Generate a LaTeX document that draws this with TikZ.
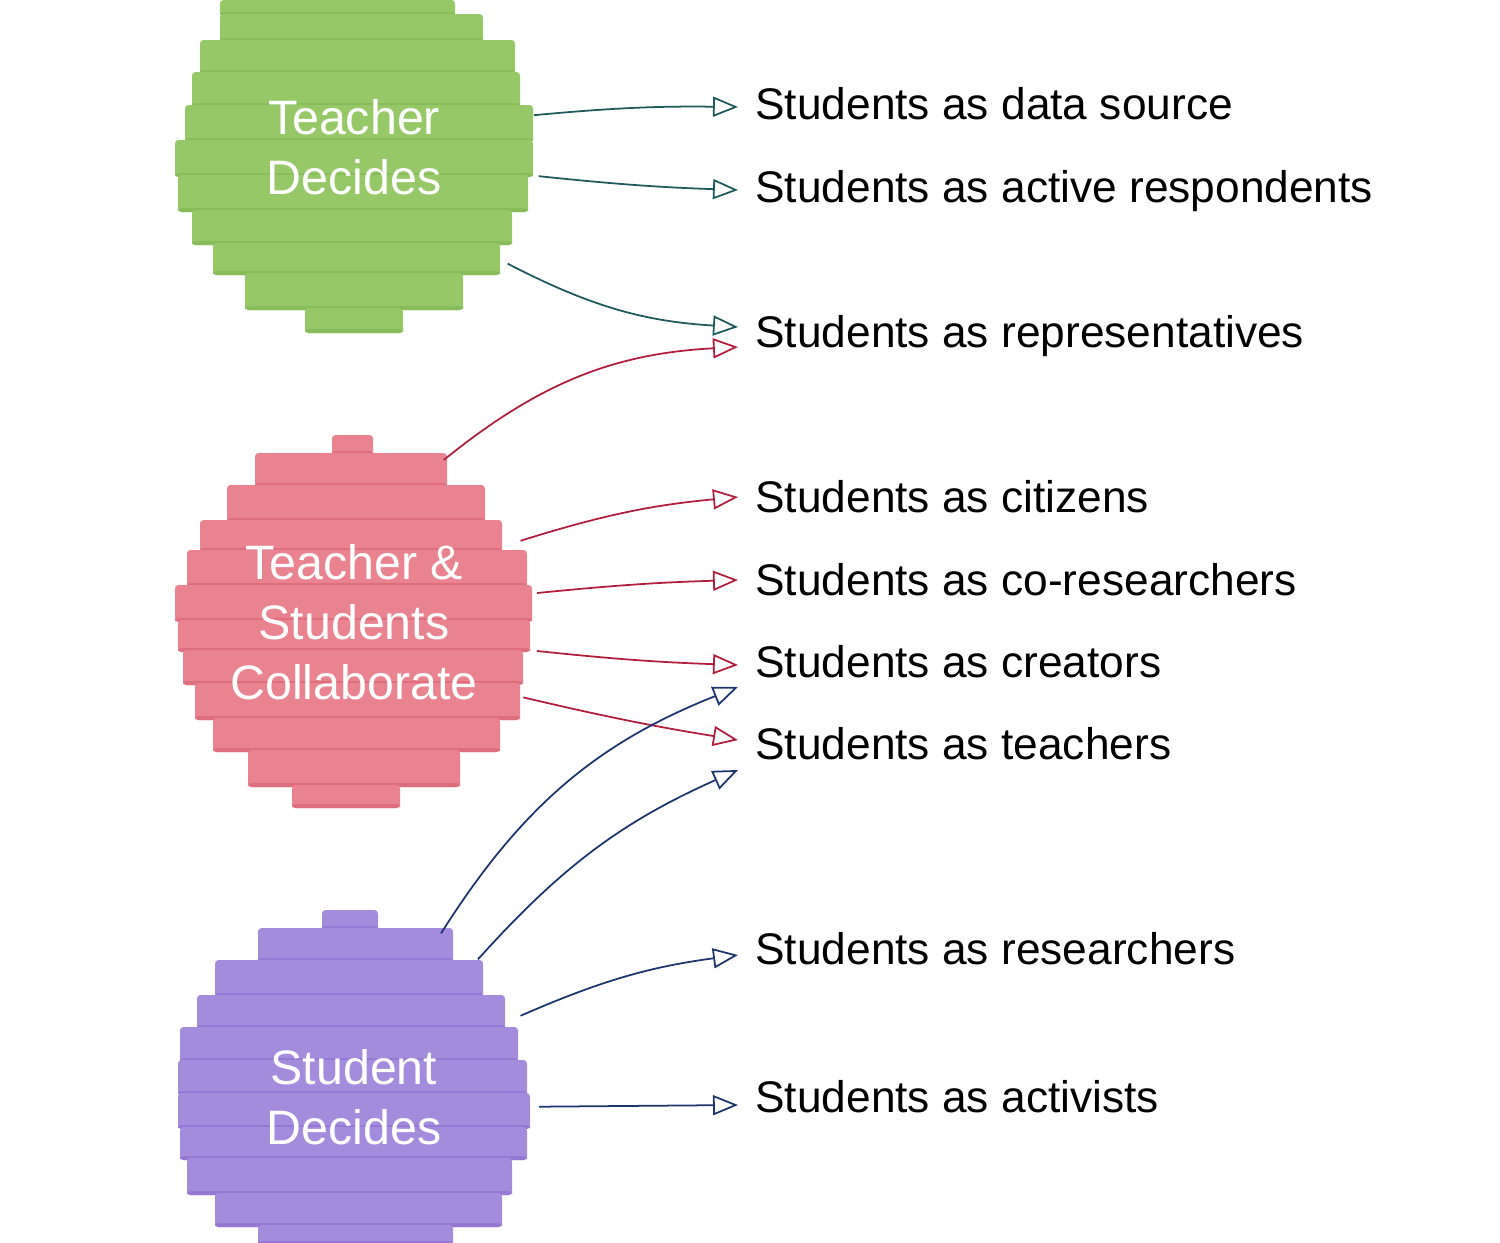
\documentclass[tikz,border=0pt]{standalone}
\usepackage{fontspec}
\setmainfont{Liberation Sans}
\usepackage{xcolor}
\usepackage{tikz}
\usetikzlibrary{arrows.meta}

\definecolor{tdfill}{HTML}{97C868}
\definecolor{tdline}{HTML}{88BB5A}
\definecolor{tsfill}{HTML}{E8838F}
\definecolor{tsline}{HTML}{DE6E7D}
\definecolor{sdfill}{HTML}{A48CDC}
\definecolor{sdline}{HTML}{9578D3}
\definecolor{tdarrow}{HTML}{1E5A5C}
\definecolor{tsarrow}{HTML}{B01E3C}
\definecolor{sdarrow}{HTML}{1C356E}

\tikzstyle{arrow} = [line width=1pt,-{Triangle[open,length=0.5cm,width=0.4cm]}]
\tikzstyle{blobtext} = [circle,minimum size=7.4cm,inner sep=0pt,text=white,align=center,font=\fontsize{27.5}{34}\selectfont]
\tikzstyle{role} = [anchor=west,inner xsep=0.34cm,inner ysep=0pt,text height=18pt,text depth=0pt,font=\fontsize{25.2}{30}\selectfont]

\begin{document}
\begin{tikzpicture}[x=0.02cm,y=-0.02cm]
\useasboundingbox (0,0) rectangle (1500,1242);

% Blobs:
% Each blob is a stack of stripes, given as top/bottom/left/right
\begin{scope}[rounded corners=2pt]
\foreach \t/\b/\l/\r in {0/16/220/455,14/42/220/483,40/74/200/515,72/107/192/520,105/142/185/533,140/177/175/533,175/212/178/528,210/245/192/512,243/275/213/500,273/310/245/463,308/333/305/403}{%
	\fill[tdfill] (\l,\t) rectangle (\r,\b);
	\fill[tdline] (\l,{\b-4}) rectangle (\r,\b);
}
\foreach \t/\b/\l/\r in {435/455/332/373,453/487/255/447,485/522/227/485,520/552/200/502,550/587/187/527,585/622/175/532,620/652/178/530,650/685/183/523,683/720/195/520,718/752/213/500,750/787/248/460,785/808/292/400}{%
	\fill[tsfill] (\l,\t) rectangle (\r,\b);
	\fill[tsline] (\l,{\b-4}) rectangle (\r,\b);
}
\foreach \t/\b/\l/\r in {910/930/322/378,928/962/258/453,960/997/215/483,995/1029/197/505,1027/1062/180/518,1060/1095/178/527,1093/1129/178/530,1127/1160/180/527,1158/1195/187/512,1193/1227/215/502,1225/1245/258/453}{%
	\fill[sdfill] (\l,\t) rectangle (\r,\b);
	\fill[sdline] (\l,{\b-4}) rectangle (\r,\b);
}
\end{scope}

% Blob labels:
\node[blobtext] (teacher) at (354,160) {};
\node[blobtext] (teacherlabel) at (354,147) {Teacher\\Decides};
\node[blobtext] (collab) at (354,622) {Teacher \&\\Students\\Collaborate};
\node[blobtext] (student) at (354,1097) {Student\\Decides};

% Roles:
\node[role] (datasource) at (738,104) {Students as data source};
\node[role] (respondents) at (738,187) {Students as active respondents};
\node[role] (representatives) at (738,332) {Students as representatives};
\node[role] (citizens) at (738,497) {Students as citizens};
\node[role] (coresearchers) at (738,580) {Students as co-researchers};
\node[role] (creators) at (738,662) {Students as creators};
\node[role] (teachers) at (738,744) {Students as teachers};
\node[role] (researchers) at (738,949) {Students as researchers};
\node[role] (activists) at (738,1097) {Students as activists};

% Arrows:
\begin{scope}[tdarrow]
\draw[arrow] (teacher.14) to[bend left=3] ([yshift=-0.06cm]datasource.west);
\draw[arrow] (teacher.-5) to[bend right=2] ([yshift=-0.06cm]respondents.west);
\draw[arrow] (teacher.-34) to[bend right=12] ([yshift=0.1cm]representatives.west);
\end{scope}

\begin{scope}[tsarrow]
\draw[arrow] (collab.61) to[bend left=18] ([yshift=-0.3cm]representatives.west);
\draw[arrow] (collab.26) to[bend left=6] (citizens.west);
\draw[arrow] (collab.9) to[bend left=2] (coresearchers.west);
\draw[arrow] (collab.-9) to[bend right=2] ([yshift=-0.06cm]creators.west);
\draw[arrow] (collab.-24) to[bend right=2] ([yshift=0.08cm]teachers.west);
\end{scope}

\begin{scope}[sdarrow]
\draw[arrow] (student.62) to[bend left=18] ([yshift=-0.5cm]creators.west);
\draw[arrow] (student.48) to[bend left=12] ([yshift=-0.52cm]teachers.west);
\draw[arrow] (student.26) to[bend left=8] ([yshift=-0.12cm]researchers.west);
\draw[arrow] (student.-3) to ([yshift=-0.16cm]activists.west);
\end{scope}
\end{tikzpicture}
\end{document}
